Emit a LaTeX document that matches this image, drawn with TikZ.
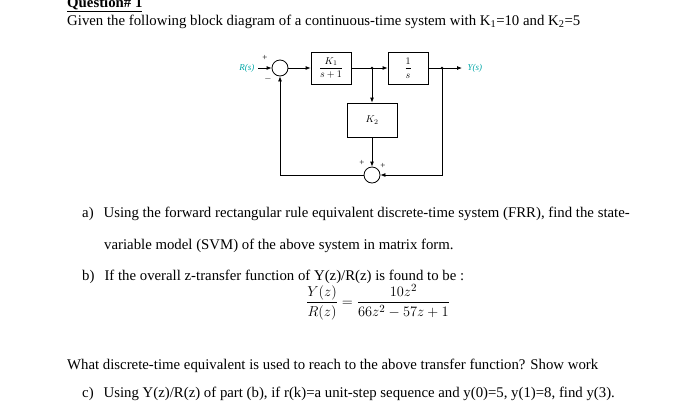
\documentclass[tikz,border=0pt]{standalone}
\usepackage{fontspec}
\setmainfont{Liberation Serif}
\usetikzlibrary{arrows.meta}
\begin{document}
\begin{tikzpicture}[x=1pt,y=-1pt,
  blk/.style={draw,thick,minimum width=40pt,minimum height=32pt,inner sep=0pt,font=\fontsize{10}{11}\selectfont},
  sum/.style={draw,thick,circle,minimum size=16pt,inner sep=0pt},
  sig/.style={font=\fontsize{9}{10}\selectfont\itshape,text=teal!70!cyan},
  sg/.style={font=\fontsize{9}{10}\selectfont},
  ar/.style={thick,-{Latex[length=5pt,width=4pt]}},
  ln/.style={thick},
  txt/.style={anchor=base west,inner sep=0pt,font=\fontsize{14.8}{16}\selectfont}]
\useasboundingbox (0,0) rectangle (700,416);
\node[sig,anchor=east] (R) at (258,68) {R(s)};
\node[sum] (s1) at (280,68) {};
\node[blk] (b1) at (331,68) {$\displaystyle\frac{K_1}{s+1}$};
\node[blk] (b2) at (408,68) {$\displaystyle\frac{1}{s}$};
\node[blk,minimum width=50pt,minimum height=34pt] (b3) at (372,120) {$K_2$};
\node[sum] (s2) at (372,175) {};
\coordinate (j1) at (372,68);
\coordinate (j2) at (442,68);
\coordinate (yend) at (462,68);
\node[sig,anchor=west] (Y) at (464,68) {Y(s)};
\draw[ar] (R) -- (s1);
\draw[ar] (s1) -- (b1);
\draw[ar] (b1) -- (b2);
\draw[ar] (b2) -- (yend);
\draw[ar] (j1) -- (b3);
\draw[ar] (b3) -- (s2);
\draw[ar] (j2) |- (s2);
\draw[ar] (s2) -| (s1);
\fill (j1) circle (1.3pt) (j2) circle (1.3pt);
\node[sg] at (265,58) {+};
\node[sg] at (268,79) {$-$};
\node[sg] at (362,163) {+};
\node[sg] at (383,166) {+};
\node[txt,font=\fontsize{14.8}{16}\selectfont\bfseries] (q) at (67,7) {\underline{Question\# 1}};
\node[txt] (g) at (67,25) {Given the following block diagram of a continuous-time system with K\textsubscript{1}=10 and K\textsubscript{2}=5};
\node[txt] (a) at (82,217) {a)\hspace{10pt}Using the forward rectangular rule equivalent discrete-time system (FRR), find the state-};
\node[txt] (a2) at (104,249) {variable model (SVM) of the above system in matrix form.};
\node[txt] (b) at (82,280) {b)\hspace{10pt}If the overall z-transfer function of Y(z)/R(z) is found to be :};
\node[font=\fontsize{15}{17}\selectfont] (f) at (378,302) {$\displaystyle\frac{Y(z)}{R(z)}=\frac{10z^2}{66z^2-57z+1}$};
\node[txt] (w) at (67,369) {What discrete-time equivalent is used to reach to the above transfer function? Show work};
\node[txt] (c) at (82,397) {c)\hspace{10pt}Using Y(z)/R(z) of part (b), if r(k)=a unit-step sequence and y(0)=5, y(1)=8, find y(3).};
\end{tikzpicture}
\end{document}
